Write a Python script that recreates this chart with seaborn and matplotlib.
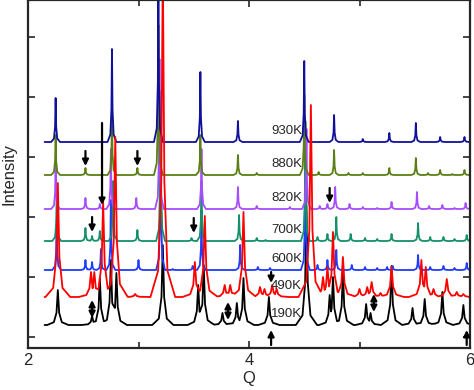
import numpy as np
import pandas as pd
import matplotlib
matplotlib.use("Agg")
import matplotlib.pyplot as plt
import seaborn as sns

# Temperature series (bottom to top) and their vertical offsets (arb. units)
temps = ["190K", "490K", "600K", "700K", "820K", "880K", "930K"]
offsets = [12, 40, 67, 96, 128, 162, 195]
colors = ["black", "#ff0000", "#1f3cff", "#14906a", "#a64dff", "#5b7f14", "#10109a"]

# Peak positions (Q) and heights
q_190 = [2.27, 2.58, 2.65, 2.75, 2.80, 3.22, 3.54, 3.59, 3.76, 3.89, 3.95, 4.18,
         4.52, 4.73, 4.76, 4.85, 5.06, 5.10, 5.29, 5.48, 5.59, 5.75, 5.94]
h_190 = [35, 9, 47, 65, 52, 80, 40, 60, 12, 22, 47, 28,
         120, 30, 48, 53, 21, 12, 59, 17, 26, 33, 20]

q_490 = [2.27, 2.57, 2.60, 2.68, 2.79, 2.97, 3.22, 3.51, 3.60, 3.78, 3.83, 3.95,
         4.10, 4.14, 4.21, 4.25, 4.56, 4.67, 4.71, 4.76, 4.85, 5.00, 5.07, 5.11,
         5.19, 5.29, 5.56, 5.60, 5.67, 5.79, 5.88, 5.94]
h_490 = [114, 25, 25, 95, 160, 3, 330, 35, 81, 12, 12, 85,
         10, 8, 12, 8, 192, 20, 30, 65, 40, 8, 10, 15,
         4, 30, 37, 30, 8, 18, 5, 3]

q_600 = [2.26, 2.52, 2.58, 2.66, 2.75, 3.00, 3.20, 3.31, 3.49, 3.57, 3.92, 4.08,
         4.19, 4.51, 4.62, 4.71, 4.79, 4.93, 5.05, 5.16, 5.25, 5.30, 5.53, 5.64,
         5.76, 5.86, 5.97]
h_600 = [50, 10, 8, 21, 70, 10, 150, 1, 4, 60, 25, 3,
         2, 120, 5, 10, 20, 5, 3, 2, 3, 4, 15, 3,
         4, 2, 7]

q_700 = [2.26, 2.52, 2.58, 2.65, 2.77, 2.99, 3.20, 3.48, 3.57, 3.91, 4.07, 4.15,
         4.51, 4.62, 4.71, 4.79, 4.92, 5.05, 5.16, 5.29, 5.53, 5.64, 5.76, 5.86, 5.97]
h_700 = [50, 13, 5, 10, 60, 11, 150, 3, 60, 26, 3, 1,
         120, 4, 7, 24, 7, 3, 2, 7, 18, 4, 4, 2, 6]

q_820 = [2.25, 2.52, 2.65, 2.75, 2.98, 3.19, 3.57, 3.90, 4.07, 4.37, 4.52, 4.64,
         4.71, 4.78, 4.91, 5.03, 5.16, 5.29, 5.52, 5.63, 5.75, 5.86, 5.96]
h_820 = [45, 11, 5, 60, 11, 150, 60, 22, 3, 2, 80, 3,
         5, 22, 5, 2, 1, 7, 17, 3, 4, 1, 6]

q_880 = [2.25, 2.52, 2.76, 2.99, 3.18, 3.56, 3.90, 4.07, 4.50, 4.63, 4.77, 4.90,
         5.03, 5.27, 5.51, 5.62, 5.73, 5.84, 5.95]
h_880 = [40, 7, 60, 7, 150, 40, 20, 2, 80, 3, 25, 2,
         2, 7, 17, 2, 5, 1, 5]

q_930 = [2.25, 2.76, 3.18, 3.56, 3.90, 4.50, 4.77, 5.03, 5.27, 5.51, 5.73, 5.95]
h_930 = [44, 93, 170, 70, 21, 81, 27, 3, 9, 19, 5, 5]

peak_q = [q_190, q_490, q_600, q_700, q_820, q_880, q_930]
peak_h = [h_190, h_490, h_600, h_700, h_820, h_880, h_930]
widths = [0.024, 0.028, 0.01, 0.01, 0.01, 0.01, 0.01]

# Arrows: (Q, y_from, y_to, style)
arrow_q = [2.52, 2.99, 2.67, 4.73, 2.58, 3.50, 4.20, 2.58, 3.81, 5.13, 4.20, 5.97]
arrow_y0 = [186, 186, 214, 149, 120, 119, 65, 37, 35, 43, -8, -8]
arrow_y1 = [171, 171, 132, 134, 105, 104, 54, 19, 17, 25, 7, 7]
arrow_kind = ["-|>"] * 7 + ["<|-|>"] * 3 + ["-|>"] * 2


def build_pattern(qs, hs, base, w):
    """Turn a list of peaks into line vertices (spike profile per peak)."""
    off = np.array([-4, -1.5, -0.5, 0, 0.5, 1.5, 4])
    frac = np.array([0, 0.08, 0.35, 1, 0.35, 0.08, 0])
    xs = [2.15, 6.0]
    for q in qs:
        xs.extend(q + off * w)
    xs = np.unique(np.clip(xs, 2.15, 6.0))
    ys = np.zeros_like(xs)
    for q, h in zip(qs, hs):
        ys = np.maximum(ys, np.interp(xs, q + off * w, frac * h, left=0, right=0))
    return pd.DataFrame({"Q": xs, "I": ys + base})


sns.set_style("ticks")
plt.rcParams["font.family"] = ["Liberation Sans", "DejaVu Sans"]

fig = plt.figure(figsize=(4.74, 3.90), dpi=100)
ax = fig.add_axes([28 / 474, 42 / 390, 442 / 474, 348 / 390])

draw_order = [0, 2, 3, 4, 5, 6, 1]
for i in draw_order:
    df = build_pattern(peak_q[i], peak_h[i], offsets[i], widths[i])
    sns.lineplot(data=df, x="Q", y="I", color=colors[i], lw=1.3,
                 estimator=None, sort=False, ax=ax)

for i, t in enumerate(temps):
    ax.text(4.48, offsets[i] + 11, t, ha="right", va="center", fontsize=9.5)

for q, y0, y1, kind in zip(arrow_q, arrow_y0, arrow_y1, arrow_kind):
    ax.annotate("", xy=(q, y1), xytext=(q, y0),
                arrowprops=dict(arrowstyle=kind, color="black", lw=1.6,
                                mutation_scale=9, shrinkA=0, shrinkB=0))

ax.set_xlim(2, 6)
ax.set_ylim(-11, 337)
ax.set_xticks([2, 4, 6])
ax.set_xticks([3, 5], minor=True)
ax.set_yticks([0, 60, 120, 180, 240, 300])
ax.set_yticklabels([])
ax.tick_params(axis="both", which="both", direction="in", top=True, right=True,
               width=1.2, labelsize=12)
ax.tick_params(which="major", length=5)
ax.tick_params(which="minor", length=4)
for s in ax.spines.values():
    s.set_linewidth(1.6)
ax.set_xlabel("Q", fontsize=12, labelpad=2)
ax.set_ylabel("Intensity", fontsize=12, labelpad=5)

fig.savefig("out.png", dpi=100)
